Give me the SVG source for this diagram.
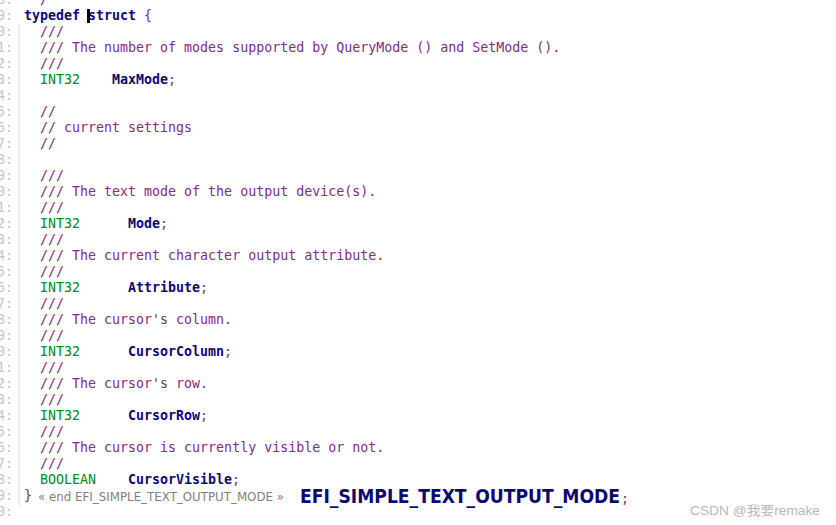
<svg xmlns="http://www.w3.org/2000/svg" width="836" height="525" viewBox="0 0 836 525">
<style>
text{font-family:"DejaVu Sans Mono","Liberation Mono",monospace;font-size:13.3px;white-space:pre}
.n{fill:#c4c4c4}
.c{fill:#7f2a8a}
.t{fill:#008a2a}
.v{fill:#0a0a70;font-weight:bold}
.k{fill:#0a0a70;font-weight:bold}
</style>
<rect width="836" height="525" fill="#fff"/>
<line x1="19" y1="24" x2="19" y2="506" stroke="#dcdcdc"/>
<g id="lineno">
<text class="n" x="-3" y="4">8:</text>
<text class="n" x="-3" y="20">9:</text><text class="n" x="-3" y="36">0:</text><text class="n" x="-3" y="52">1:</text><text class="n" x="-3" y="68">2:</text><text class="n" x="-3" y="84">3:</text><text class="n" x="-3" y="100">4:</text><text class="n" x="-3" y="116">5:</text><text class="n" x="-3" y="132">6:</text><text class="n" x="-3" y="148">7:</text><text class="n" x="-3" y="164">8:</text><text class="n" x="-3" y="180">9:</text><text class="n" x="-3" y="196">0:</text><text class="n" x="-3" y="212">1:</text><text class="n" x="-3" y="228">2:</text><text class="n" x="-3" y="244">3:</text><text class="n" x="-3" y="260">4:</text><text class="n" x="-3" y="276">5:</text><text class="n" x="-3" y="292">6:</text><text class="n" x="-3" y="308">7:</text><text class="n" x="-3" y="324">8:</text><text class="n" x="-3" y="340">9:</text><text class="n" x="-3" y="356">0:</text><text class="n" x="-3" y="372">1:</text><text class="n" x="-3" y="388">2:</text><text class="n" x="-3" y="404">3:</text><text class="n" x="-3" y="420">4:</text><text class="n" x="-3" y="436">5:</text><text class="n" x="-3" y="452">6:</text><text class="n" x="-3" y="468">7:</text><text class="n" x="-3" y="484">8:</text><text class="n" x="-3" y="500">9:</text><text class="n" x="-3" y="516">0:</text>
</g>
<g id="code">
<text class="c" x="40" y="4">/</text>
<text class="k" x="24" y="20">typedef struct</text><text class="c" x="144" y="20">{</text>
<rect x="87" y="9" width="3" height="14" fill="#000"/>
<text class="c" x="40" y="36">///</text>
<text class="c" x="40" y="52">/// The number of modes supported by QueryMode () and SetMode ().</text>
<text class="c" x="40" y="68">///</text>
<text class="t" x="40" y="84">INT32</text><text class="v" x="112" y="84">MaxMode</text><text class="c" x="168" y="84">;</text>
<text class="c" x="40" y="116">//</text>
<text class="c" x="40" y="132">// current settings</text>
<text class="c" x="40" y="148">//</text>
<text class="c" x="40" y="180">///</text>
<text class="c" x="40" y="196">/// The text mode of the output device(s).</text>
<text class="c" x="40" y="212">///</text>
<text class="t" x="40" y="228">INT32</text><text class="v" x="128" y="228">Mode</text><text class="c" x="160" y="228">;</text>
<text class="c" x="40" y="244">///</text>
<text class="c" x="40" y="260">/// The current character output attribute.</text>
<text class="c" x="40" y="276">///</text>
<text class="t" x="40" y="292">INT32</text><text class="v" x="128" y="292">Attribute</text><text class="c" x="200" y="292">;</text>
<text class="c" x="40" y="308">///</text>
<text class="c" x="40" y="324">/// The cursor's column.</text>
<text class="c" x="40" y="340">///</text>
<text class="t" x="40" y="356">INT32</text><text class="v" x="128" y="356">CursorColumn</text><text class="c" x="224" y="356">;</text>
<text class="c" x="40" y="372">///</text>
<text class="c" x="40" y="388">/// The cursor's row.</text>
<text class="c" x="40" y="404">///</text>
<text class="t" x="40" y="420">INT32</text><text class="v" x="128" y="420">CursorRow</text><text class="c" x="200" y="420">;</text>
<text class="c" x="40" y="436">///</text>
<text class="c" x="40" y="452">/// The cursor is currently visible or not.</text>
<text class="c" x="40" y="468">///</text>
<text class="t" x="40" y="484">BOOLEAN</text><text class="v" x="128" y="484">CursorVisible</text><text class="c" x="232" y="484">;</text>
<text class="c" x="24" y="500">}</text>
<text x="38" y="501" style="fill:#808080;font-size:12px;font-family:'DejaVu Sans',sans-serif" textLength="246" lengthAdjust="spacingAndGlyphs">« end EFI_SIMPLE_TEXT_OUTPUT_MODE »</text>
<text class="v" x="300" y="503" style="font-size:20px;font-family:'DejaVu Sans',sans-serif" textLength="320" lengthAdjust="spacingAndGlyphs">EFI_SIMPLE_TEXT_OUTPUT_MODE</text><text class="c" x="621" y="503">;</text>
<text x="690" y="515" style="fill:#b8b8b8;font-size:13px;font-family:'Liberation Sans','Noto Sans CJK SC',sans-serif" textLength="130" lengthAdjust="spacingAndGlyphs">CSDN @我要remake</text>
</g>
</svg>
